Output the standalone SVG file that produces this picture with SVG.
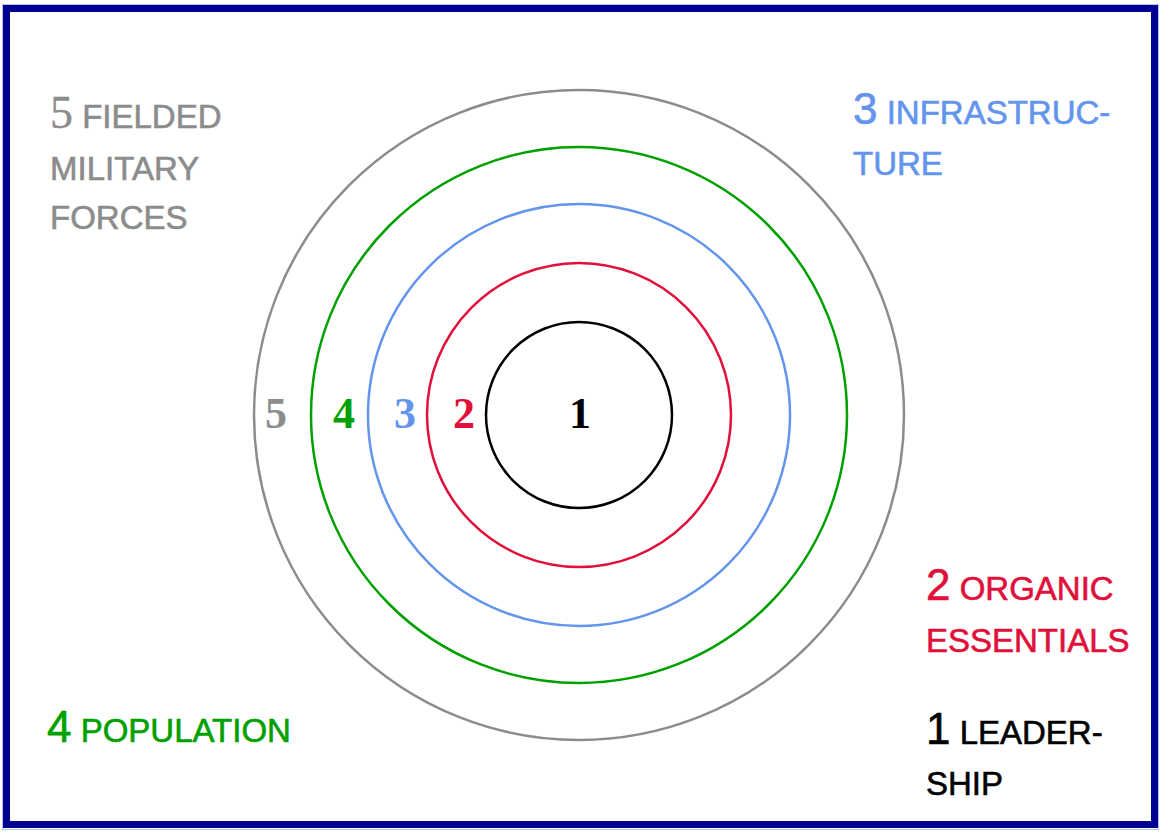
<svg xmlns="http://www.w3.org/2000/svg" width="1173" height="839" viewBox="0 0 1173 839">
<style>
.c{fill:none;stroke-width:2.5}
.n{font-family:"Liberation Serif",serif;font-weight:bold;font-size:44px;text-anchor:middle}
.s{font-family:"Liberation Sans",Arial,sans-serif;font-size:33px;stroke-width:0.6}
.b{font-size:44px}
.g{fill:#8c8c8c;stroke:#8c8c8c}.gr{fill:#00a000;stroke:#00a000}.bl{fill:#6495ed;stroke:#6495ed}.r{fill:#e0103a;stroke:#e0103a}.k{fill:#000;stroke:#000}
.n{stroke:none}
.sg{stroke:#8c8c8c}.sgr{stroke:#00a000}.sbl{stroke:#6495ed}.sr{stroke:#e0103a}.sk{stroke:#000}
</style>
<rect x="0" y="0" width="1173" height="839" fill="#fff"/>
<rect x="6.5" y="8.5" width="1148" height="816" fill="none" stroke="#000090" stroke-width="7"/>
<rect x="2.5" y="4.5" width="1156" height="825" fill="none" stroke="#b0c4f0" stroke-width="1"/>
<g id="rings">
<circle class="c sg" cx="579" cy="415" r="325"/>
<circle class="c sgr" cx="579" cy="415" r="268"/>
<circle class="c sbl" cx="579" cy="415" r="211"/>
<circle class="c sr" cx="579" cy="415" r="152"/>
<circle class="c sk" cx="579" cy="415" r="93"/>
</g>
<g id="ring-numbers">
<text class="n g" x="276" y="428">5</text>
<text class="n gr" x="344" y="428">4</text>
<text class="n bl" x="405" y="428">3</text>
<text class="n r" x="464" y="428">2</text>
<text class="n k" x="580" y="428">1</text>
</g>
<g id="label5">
<text x="50" y="128" class="s g"><tspan style="font-family:'Liberation Serif',serif;font-size:46px;stroke-width:0.3">5</tspan> FIELDED</text>
<text x="50" y="180" class="s g">MILITARY</text>
<text x="50" y="229" class="s g">FORCES</text>
</g>
<g id="label3">
<text x="853" y="124" class="s bl"><tspan class="b">3</tspan> INFRASTRUC-</text>
<text x="853" y="175" class="s bl">TURE</text>
</g>
<g id="label2">
<text x="926" y="600" class="s r"><tspan class="b">2</tspan> ORGANIC</text>
<text x="926" y="652" class="s r">ESSENTIALS</text>
</g>
<g id="label4">
<text x="47" y="742" class="s gr"><tspan class="b">4</tspan> POPULATION</text>
</g>
<g id="label1">
<text x="926" y="744" class="s k"><tspan class="b">1</tspan> LEADER-</text>
<text x="926" y="795" class="s k">SHIP</text>
</g>
<g id="connectors"/>
</svg>
